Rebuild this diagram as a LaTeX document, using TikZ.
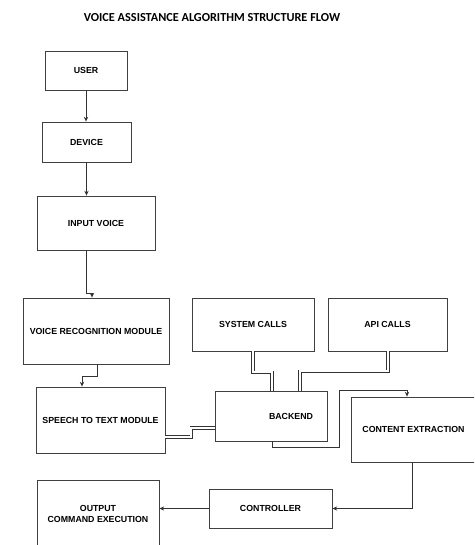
\documentclass[tikz,border=0pt]{standalone}
\usepackage{fontspec}
\setmainfont{Liberation Sans}
\newfontfamily\titlefont{Carlito}
\usepackage{tikz}
\usetikzlibrary{arrows.meta,calc}

\begin{document}
\begin{tikzpicture}[x=0.75pt, y=-0.75pt, >={Stealth[length=3.6pt,width=3.2pt]},
    block/.style={draw=black!75, line width=0.6pt, inner sep=0pt, align=center,
        font=\fontsize{6.6}{7.8}\selectfont\bfseries},
    link/.style={draw=black!80, line width=0.6pt},
    dlink/.style={draw=black!80, line width=0.45pt, double, double distance=1.5pt}]
    % The page
    \useasboundingbox (0,0) rectangle (474,545);
    \clip (0,0) rectangle (474,545);

    % title
    \node (title) [font=\titlefont\bfseries\fontsize{9.2}{11}\selectfont] at (212,18) {VOICE ASSISTANCE ALGORITHM STRUCTURE FLOW};

    % left column
    \node (user) [block, minimum width=61.5pt, minimum height=29.25pt] at (86,70.5) {USER};
    \node (device) [block, minimum width=66.75pt, minimum height=30pt] at (86.5,142) {DEVICE};
    \node (input) [block, minimum width=88.5pt, minimum height=40.5pt] at (96,223) {INPUT VOICE};
    \node (vrm) [block, minimum width=109.5pt, minimum height=49.5pt] at (96,331) {VOICE RECOGNITION MODULE};
    \node (stt) [block, minimum width=96.75pt, minimum height=49.5pt] at (100.5,420) {SPEECH TO TEXT MODULE};

    % calls and backend
    \node (sys) [block, minimum width=91.5pt, minimum height=39.75pt] at (253,324.5) {SYSTEM CALLS};
    \node (api) [block, minimum width=89.25pt, minimum height=39.75pt] at (387.5,324.5) {API CALLS};
    \node (backend) [block, minimum width=84pt, minimum height=37.5pt] at (271,416) {\hspace*{30pt}BACKEND};
    \node (ce) [block, minimum width=93.75pt, minimum height=48.75pt] at (413.5,429.5) {CONTENT EXTRACTION};

    % bottom row
    \node (controller) [block, minimum width=92.25pt, minimum height=29.25pt] at (270.5,508.5) {CONTROLLER};
    \node (output) [block, minimum width=91.5pt, minimum height=51pt] at (98,514) {OUTPUT\\COMMAND EXECUTION};

    % arrows down the left column
    \draw[link,->] (user.south) -- (user.south |- device.north);
    \draw[link,->] (device.south) -- (device.south |- input.north);
    \draw[link,->] ($(input.south)+(-10,0)$) -- ++(0,43) -| ($(vrm.north)+(-4,0)$);
    \draw[link,->] ($(vrm.south)+(1,0)$) -- ++(0,12) -| ($(stt.north)+(-18.5,0)$);

    % double links into the backend
    \draw[dlink] ($(stt.east)+(0,17)$) -- ++(26,0) |- ($(backend.west)+(0,12)$);
    \draw[dlink] (sys.south) -- ++(0,21) -| ($(backend.north)+(1,0)$);
    \draw[dlink] ($(api.south)+(0.5,0)$) -- ++(0,20) -| ($(backend.north)+(29,0)$);

    % backend to output
    \draw[link,->] ($(backend.south)+(1,0)$) -- ++(0,6) -- ++(67,0) -- ++(0,-57) -| ($(ce.north)+(-6.5,0)$);
    \draw[link,->] ($(ce.south)+(-1.5,0)$) |- (controller.east);
    \draw[link,->] (controller.west) -- (controller.west -| output.east);
\end{tikzpicture}
\end{document}
